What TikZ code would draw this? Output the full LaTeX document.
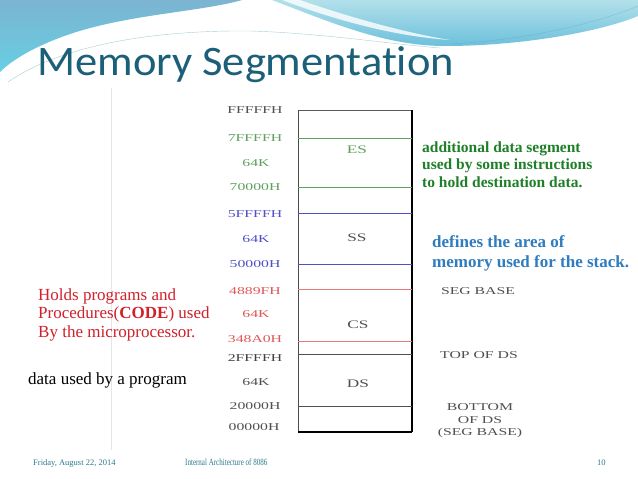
\documentclass[tikz,border=0pt]{standalone}
\usepackage{fontspec}
\setmainfont{Liberation Serif}
\newfontfamily\titlefont[Ligatures={NoCommon,NoContextual},FakeStretch=1.06]{Carlito}
\newfontfamily\tabfont[FakeStretch=1.5]{Liberation Serif}
\newfontfamily\notefont{Liberation Serif}
\newfontfamily\narrowfont[FakeStretch=0.74]{Liberation Serif}
\definecolor{titlec}{HTML}{1C5F78}
\definecolor{footc}{HTML}{2A7A8C}
\definecolor{notegreen}{HTML}{1E7F28}
\definecolor{noteblue}{HTML}{2F7CBE}
\definecolor{notered}{HTML}{D0202A}
\definecolor{tgreen}{HTML}{5FA05F}
\definecolor{tblue}{HTML}{4F4FC8}
\definecolor{tred}{HTML}{E05858}
\definecolor{tgray}{HTML}{505050}
\definecolor{waveA}{HTML}{7CB4D2}
\definecolor{waveB}{HTML}{66CFE2}
\definecolor{waveC}{HTML}{B2E0EA}
\definecolor{waveD}{HTML}{6CC0DC}
\tikzset{
  hexlab/.style={inner sep=0pt, anchor=center, font=\tabfont\fontsize{10.5}{12}\selectfont},
  seglab/.style={inner sep=0pt, anchor=center, font=\tabfont\fontsize{11.5}{13}\selectfont, text=tgray},
  sidelab/.style={inner sep=0pt, anchor=center, align=center, font=\tabfont\fontsize{10.5}{12.5}\selectfont, text=tgray},
  divline/.style={line width=0.7pt},
  note/.style={inner sep=0pt, anchor=north west, align=left},
  foot/.style={inner sep=0pt, anchor=base west, text=footc, font=\fontsize{8.5}{10}\selectfont},
}
\begin{document}
\begin{tikzpicture}[x=1pt,y=-1pt]
\useasboundingbox (0,0) rectangle (638,479);
\fill[white] (0,0) rectangle (638,479);
% waves
\shade[top color=waveA, bottom color=waveB]
  (0,0) -- (242,0) .. controls (200,12) and (130,14) .. (70,34)
  .. controls (35,46) and (12,60) .. (0,72) -- cycle;
\shade[top color=waveC, bottom color=waveD]
  (272,0) .. controls (330,22) and (385,46) .. (445,46)
  .. controls (520,46) and (600,32) .. (638,16) -- (638,0) -- cycle;
\fill[white, opacity=0.8]
  (282,0) .. controls (330,18) and (390,36) .. (450,40)
  .. controls (400,32) and (340,14) .. (300,0) -- cycle;
\draw[waveD!80!black, opacity=0.5, line width=0.4pt]
  (8,82) .. controls (60,46) and (150,30) .. (250,31) .. controls (320,33) and (390,44) .. (440,48);
\draw[waveD!80!black, opacity=0.4, line width=0.4pt]
  (450,44) .. controls (530,40) and (600,22) .. (638,6);
% title
\node[inner sep=0pt, anchor=base west, text=titlec, font=\titlefont\fontsize{42}{46}\selectfont] (title) at (37,75) {Memory Segmentation};
% image frame edge
\draw[gray!20, line width=0.6pt] (111,88) -- (111,450);
% memory box
\coordinate (bl) at (298,432); \coordinate (br) at (412,432);
\coordinate (tl) at (298,110); \coordinate (tr) at (412,110);
\draw[gray!70!black, line width=0.8pt] (tl) -- (tr);
\draw[gray!60!black, line width=0.9pt] (tl) -- (bl);
\draw[black, line width=1.4pt] (tr) -- (br);
\draw[black, line width=1.1pt] (bl) -- (br);
\draw[divline, tgreen] (298,138) -- (412,138);
\draw[divline, tgreen] (298,187) -- (412,187);
\draw[divline, tblue] (298,213) -- (412,213);
\draw[divline, tblue] (298,264) -- (412,264);
\draw[divline, tred!80] (298,289) -- (412,289);
\draw[divline, tred!80] (298,341) -- (412,341);
\draw[divline, tgray] (298,354) -- (412,354);
\draw[divline, tgray] (298,406) -- (412,406);
% hex labels
\node[hexlab, text=tgray] (h1) at (255,110) {FFFFFH};
\node[hexlab, text=tgreen] (h2) at (255,138) {7FFFFH};
\node[hexlab, text=tgreen] (h3) at (256,163) {64K};
\node[hexlab, text=tgreen] (h4) at (255,187) {70000H};
\node[hexlab, text=tblue] (h5) at (255,214) {5FFFFH};
\node[hexlab, text=tblue] (h6) at (256,239) {64K};
\node[hexlab, text=tblue] (h7) at (255,264) {50000H};
\node[hexlab, text=tred] (h8) at (255,291) {4889FH};
\node[hexlab, text=tred] (h9) at (256,314) {64K};
\node[hexlab, text=tred] (h10) at (255,339) {348A0H};
\node[hexlab, text=tgray!80!black] (h11) at (255,358) {2FFFFH};
\node[hexlab, text=tgray] (h12) at (256,382) {64K};
\node[hexlab, text=tgray] (h13) at (255,406) {20000H};
\node[hexlab, text=tgray] (h14) at (254,427) {00000H};
% segment labels
\node[seglab, text=tgreen] (es) at (357,150) {ES};
\node[seglab] (ss) at (357,238) {SS};
\node[seglab] (cs) at (358,325) {CS};
\node[seglab] (ds) at (358,384) {DS};
% side labels
\node[sidelab] (segbase) at (478,291) {SEG BASE};
\node[sidelab] (topds) at (479,355) {TOP OF DS};
\node[sidelab] (botds) at (480,421) {BOTTOM\\OF DS\\(SEG BASE)};
% notes
\node[note, text=notegreen, font=\notefont\bfseries\fontsize{15.5}{17.5}\selectfont] (n1) at (422,141.5)
  {additional data segment\\used by some instructions\\to hold destination data.};
\node[note, text=noteblue, font=\notefont\bfseries\fontsize{17}{20}\selectfont] (n2) at (432,235.5)
  {defines the area of\\memory used for the stack.};
\node[note, text=notered, font=\notefont\fontsize{17}{18.5}\selectfont] (n3) at (38,288.5)
  {Holds programs and\\Procedures(\textbf{CODE}) used\\By the microprocessor.};
\node[note, anchor=base west, font=\notefont\fontsize{17}{19}\selectfont] (n4) at (28,384)
  {data used by a program};
% footer
\node[foot] (f1) at (33,465) {Friday, August 22, 2014};
\node[foot, font=\narrowfont\fontsize{9.5}{11}\selectfont] (f2) at (185,465) {Internal Architecture of 8086};
\node[foot] (f3) at (597,465) {10};
\end{tikzpicture}
\end{document}
